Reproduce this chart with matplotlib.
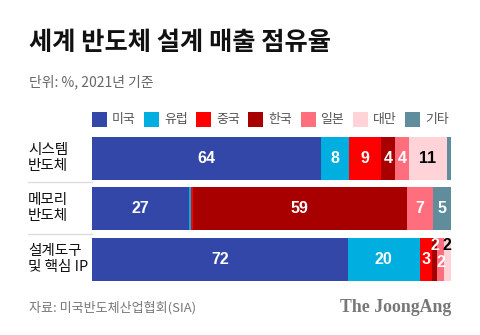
import matplotlib
matplotlib.use("Agg")
import matplotlib.pyplot as plt
from matplotlib.patches import Rectangle

plt.rcParams['font.family'] = ['Noto Sans CJK KR', 'DejaVu Sans']

categories = ["시스템\n반도체", "메모리\n반도체", "설계도구\n및 핵심 IP"]
series = ["미국", "유럽", "중국", "한국", "일본", "대만", "기타"]
colors = ["#3347A9", "#00AEDF", "#FF0000", "#A80000", "#FF6E7C", "#FFD3D7", "#5F8D9B"]
values = [
    [63.8, 7.9, 8.8, 3.9, 3.8, 10.6, 1.2],
    [27.1, 0.6, 0.4, 59.7, 7.1, 0.0, 5.1],
    [71.3, 20.0, 3.5, 1.4, 1.8, 1.9, 0.1],
]
labels = [
    ["64", "8", "9", "4", "4", "11", ""],
    ["27", "", "", "59", "7", "", "5"],
    ["72", "20", "3", "2", "2", "2", ""],
]

W, H = 480, 335
fig = plt.figure(figsize=(W / 100, H / 100), dpi=100)
fig.patch.set_facecolor("white")

def fx(px):
    return px / W

def fy(py):
    return 1 - py / H

ax_l, ax_r, ax_t, ax_b = 91.7, 451, 136.7, 281
ax = fig.add_axes([fx(ax_l), fy(ax_b), fx(ax_r - ax_l), (ax_b - ax_t) / H])
bar_h = 0.85
total = [sum(v) for v in values]
for i, row in enumerate(values):
    left = 0
    for j, v in enumerate(row):
        ax.barh(i, v, left=left, height=bar_h, color=colors[j], edgecolor="none")
        lab = labels[i][j]
        if lab:
            tc = "black" if j == 5 else "white"
            yoff = 0
            xc = left + v / 2
            if i == 2 and j in (3, 5):
                yoff = -0.28
            if i == 2 and j == 4:
                yoff = 0.05
            ax.text(xc, i + yoff, lab, ha="center", va="center", color=tc,
                    fontsize=11.5, fontweight="bold", family=["Liberation Sans", "DejaVu Sans"])
        left += v
ax.set_xlim(0, max(total))
ax.set_ylim(2.425, -0.425)
ax.axis("off")

# Title and subtitle
fig.text(fx(29), fy(43), "세계 반도체 설계 매출 점유율", fontsize=18.2, fontweight="black",
         ha="left", va="center", color="#111111")
fig.text(fx(29), fy(82), "단위: %, 2021년 기준", fontsize=10, ha="left", va="center", color="#666666")

# Legend
lx0 = 91.7
for k, (name, c) in enumerate(zip(series, colors)):
    x = lx0 + k * 52.2
    fig.patches.append(Rectangle((fx(x), fy(126.7)), fx(15), 15 / H, transform=fig.transFigure,
                                 facecolor=c, edgecolor="none"))
    fig.text(fx(x + 20), fy(119.5), name, fontsize=9.3, ha="left", va="center", color="#555555")

# Category labels
centers = [158, 208, 259]
for cat, cy in zip(categories, centers):
    fig.text(fx(28), fy(cy), cat, fontsize=10.5, fontweight="medium", ha="left", va="center",
             color="#111111", linespacing=1.2)

# Separators
for sy in (182, 234):
    fig.add_artist(plt.Line2D([fx(28), fx(92)], [fy(sy), fy(sy)], transform=fig.transFigure,
                              color="#DDDDDD", lw=1))

# Source and logo
fig.text(fx(29), fy(308), "자료: 미국반도체산업협회(SIA)", fontsize=9.4, ha="left", va="center", color="#777777")
fig.text(fx(451), fy(307), "The JoongAng", fontsize=12.8, fontweight="bold", ha="right", va="center",
         color="#777777", family=["Liberation Serif", "DejaVu Serif"])

fig.savefig("out.png", dpi=100, facecolor="white")
